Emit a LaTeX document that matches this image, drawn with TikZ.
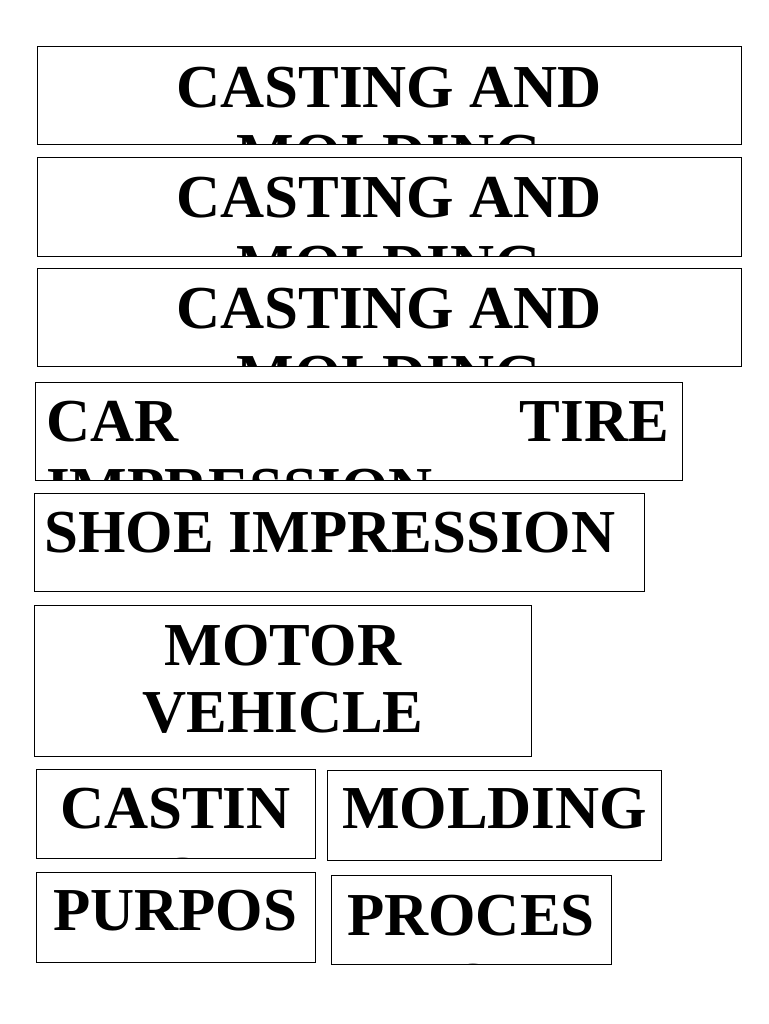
\documentclass[tikz,border=0pt]{standalone}
\usepackage{fontspec}
\setmainfont{Liberation Serif}
\begin{document}
\begin{tikzpicture}[x=1pt,y=-1pt,
  box/.style={draw=black,line width=1pt},
  txt/.style={inner sep=0pt,font=\fontsize{61}{67}\selectfont\bfseries}]
\useasboundingbox (0,0) rectangle (768,1024);
\newcommand{\bx}[5]{%
  \draw[box] (#1,#2) rectangle (#3,#4);
  \begin{scope}\clip (#1,#2) rectangle (#3,#4); #5 \end{scope}}
\bx{37}{47}{741}{145}{\node[txt,anchor=base] (a1) at (389,108) {CASTING AND};
  \node[txt,anchor=base] (a2) at (389,176) {MOLDING};}
\bx{37}{158}{741}{256}{\node[txt,anchor=base] (b1) at (389,218) {CASTING AND};
  \node[txt,anchor=base] (b2) at (389,286) {MOLDING};}
\bx{37}{268}{741}{366}{\node[txt,anchor=base] (c1) at (389,328) {CASTING AND};
  \node[txt,anchor=base] (c2) at (389,396) {MOLDING};}
\bx{35}{382}{682}{480}{\node[txt,anchor=base west] (d1) at (46,441) {CAR};
  \node[txt,anchor=base east] (d2) at (669,441) {TIRE};
  \node[txt,anchor=base west] (d3) at (46,509) {IMPRESSION};}
\bx{34}{493}{644}{591}{\node[txt,anchor=base west] (e1) at (44,552) {SHOE IMPRESSION};}
\bx{34}{605}{531}{756}{\node[txt,anchor=base] (f1) at (283,665) {MOTOR};
  \node[txt,anchor=base] (f2) at (283,732) {VEHICLE};}
\bx{36}{769}{315}{858}{\node[txt,anchor=base west] (g1) at (60,828) {CASTIN};
  \node[txt,anchor=base west] (g2) at (157,898) {G};}
\bx{327}{770}{661}{860}{\node[txt,anchor=base west] (h1) at (342,828) {MOLDING};}
\bx{36}{872}{315}{962}{\node[txt,anchor=base west] (i1) at (53,930) {PURPOS};
  \node[txt,anchor=base west] (i2) at (155,1003) {E};}
\bx{331}{875}{611}{964}{\node[txt,anchor=base west] (j1) at (347,935) {PROCES};
  \node[txt,anchor=base west] (j2) at (455,1004) {S};}
\end{tikzpicture}
\end{document}
